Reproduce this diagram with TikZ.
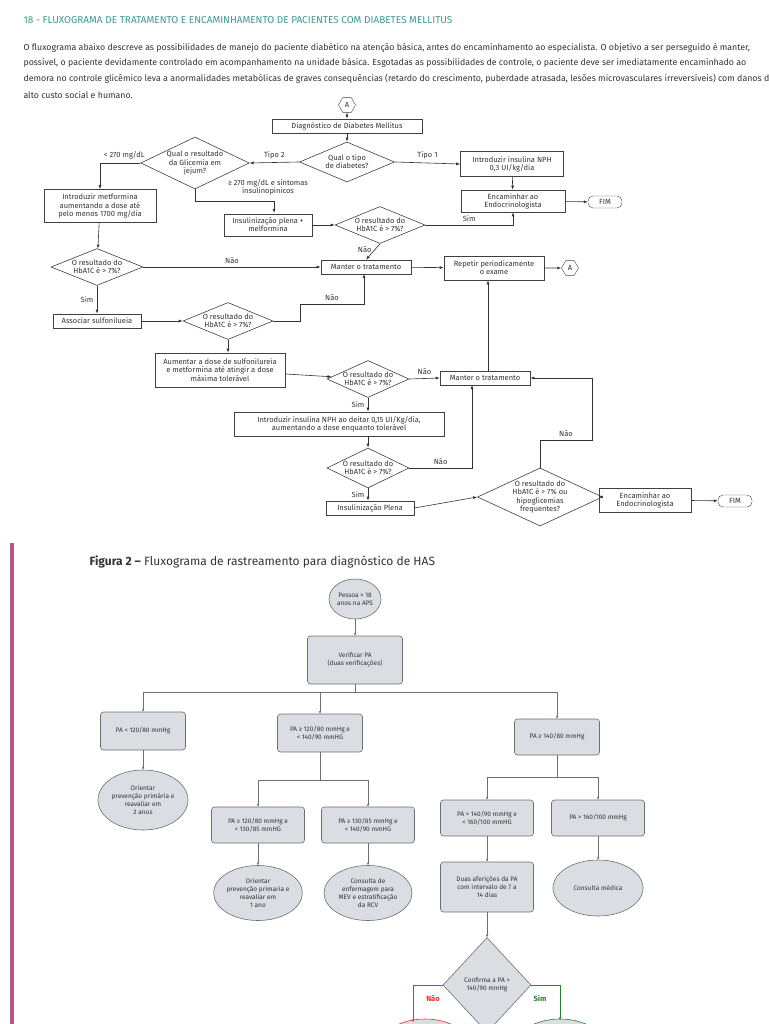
\documentclass[tikz,border=0pt]{standalone}
\usepackage{fontspec}
\setmainfont{Fira Sans}
\usetikzlibrary{shapes.geometric,arrows.meta}
\definecolor{teal1}{HTML}{3E9A8C}
\definecolor{bx}{HTML}{DADEE3}
\definecolor{bd}{HTML}{6B6F73}
\definecolor{mag}{HTML}{B8577F}
\definecolor{gr}{HTML}{2E7D32}
\definecolor{rd}{HTML}{E03030}
\begin{document}
\begin{tikzpicture}[x=1pt,y=-1pt,
 every node/.style={font=\fontsize{7.5}{8.2}\selectfont, text=black!80},
 bx/.style={draw=black!75, line width=0.6pt, align=center, inner sep=1.5pt},
 dm/.style={draw=black!75, line width=0.6pt, diamond, aspect=2.2, align=center, inner sep=0pt},
 hx/.style={draw=black!75, regular polygon, regular polygon sides=6, minimum size=17pt, inner sep=0pt},
 fim/.style={draw=black!75, rounded corners=5pt, minimum width=34pt, minimum height=12pt, inner sep=1pt},
 ar/.style={-{Latex[length=4pt,width=3pt]}, line width=0.6pt, black!80},
 lb/.style={font=\fontsize{7.5}{8.2}\selectfont},
 gb/.style={draw=bd, fill=bx, rounded corners=3pt, align=center, line width=0.6pt, font=\fontsize{6.5}{7.8}\selectfont},
 ge/.style={draw=bd, fill=bx, ellipse, align=center, line width=0.6pt, inner sep=0pt, font=\fontsize{6.5}{7.8}\selectfont},
 ga/.style={-{Stealth[length=3pt,width=2.5pt]}, bd, line width=0.6pt},
]
\useasboundingbox (0,0) rectangle (768,1024);
\clip (0,0) rectangle (768,1024);
% ===== header =====
\node[anchor=west, text=teal1, font=\fontsize{10}{11}\selectfont] (title) at (20,20) {18 - FLUXOGRAMA DE TRATAMENTO E ENCAMINHAMENTO DE PACIENTES COM DIABETES MELLITUS};
\node[anchor=west, font=\fontsize{8.8}{9}\selectfont] (p1) at (20,48) {O fluxograma abaixo descreve as possibilidades de manejo do paciente diabético na atenção básica, antes do encaminhamento ao especialista. O objetivo a ser perseguido é manter,};
\node[anchor=west, font=\fontsize{8.8}{9}\selectfont] (p2) at (20,63) {possível, o paciente devidamente controlado em acompanhamento na unidade básica. Esgotadas as possibilidades de controle, o paciente deve ser imediatamente encaminhado ao};
\node[anchor=west, font=\fontsize{8.8}{9}\selectfont] (p3) at (20,79) {demora no controle glicêmico leva a anormalidades metabólicas de graves consequências (retardo do crescimento, puberdade atrasada, lesões microvasculares irreversíveis) com danos de};
\node[anchor=west, font=\fontsize{8.8}{9}\selectfont] (p4) at (20,95) {alto custo social e humano.};
% ===== top flowchart =====
\node[hx] (A1) at (347,105) {A};
\node[bx, minimum width=150pt, minimum height=14pt] (diag) at (347,126) {Diagnóstico de Diabetes Mellitus};
\node[dm, minimum width=95pt, minimum height=40pt] (tipo) at (347,162) {Qual o tipo\\de diabetes?};
\node[dm, minimum width=102pt, minimum height=52pt] (glic) at (195,163) {Qual o resultado\\da Glicemia em\\jejum?};
\node[bx, minimum width=103pt, minimum height=25pt] (nph) at (512,164) {Introduzir insulina NPH\\0,3 UI/kg/dia};
\node[bx, minimum width=104pt, minimum height=22pt] (enc1) at (513,201) {Encaminhar ao\\Endocrinologista};
\node[fim] (fim1) at (605,202) {FIM};
\node[bx, minimum width=112pt, minimum height=33pt] (metf) at (100,206) {Introduzir metformina\\aumentando a dose até\\pelo menos 1700 mg/dia};
\node[bx, minimum width=88pt, minimum height=22pt] (insm) at (268,225) {Insulinização plena +\\melformina};
\node[dm, minimum width=90pt, minimum height=36pt] (h1) at (380,225) {O resultado do\\HbA1C é > 7\%?};
\node[bx, minimum width=90pt, minimum height=14pt] (man1) at (366,267) {Manter o tratamento};
\node[dm, minimum width=92pt, minimum height=36pt] (h2) at (97,267) {O resultado do\\HbA1C é > 7\%?};
\node[bx, minimum width=100pt, minimum height=24pt] (rep) at (494,268) {Repetir periodicamente\\o exame};
\node[hx] (A2) at (570,268) {A};
\node[bx, minimum width=88pt, minimum height=14pt] (sulf) at (97,321) {Associar sulfonilueia};
\node[dm, minimum width=90pt, minimum height=36pt] (h3) at (228,321) {O resultado do\\HbA1C é > 7\%?};
\node[bx, minimum width=130pt, minimum height=34pt] (aum) at (220,370) {Aumentar a dose de sulfonilureia\\e metformina até atingir a dose\\máxima tolerável};
\node[dm, minimum width=82pt, minimum height=36pt] (h4) at (368,379) {O resultado do\\HbA1C é > 7\%?};
\node[bx, minimum width=90pt, minimum height=14pt] (man2) at (485,378) {Manter o tratamento};
\node[bx, minimum width=210pt, minimum height=24pt] (nph2) at (339,424) {Introduzir insulina NPH ao deitar 0,15 UI/Kg/dia,\\aumentando a dose enquanto tolerável};
\node[dm, minimum width=82pt, minimum height=40pt] (h5) at (368,468) {O resultado do\\HbA1C é > 7\%?};
\node[bx, minimum width=88pt, minimum height=14pt] (insp) at (370,508) {Insulinização Plena};
\node[dm, minimum width=102pt, minimum height=58pt] (h6) at (540,497) {O resultado do\\HbA1C é > 7\% ou\\hipoglicemias\\frequentes?};
\node[bx, minimum width=92pt, minimum height=24pt] (enc2) at (645,500) {Encaminhar ao\\Endocrinologista};
\node[fim] (fim2) at (735,501) {FIM};
% connectors
\draw[ar] (A1) -- (diag);
\draw[ar] (diag) -- (tipo);
\draw[ar] (tipo.west) -- node[lb, above]{Tipo 2} (glic.east);
\draw[ar] (tipo.east) -- node[lb, above]{Tipo 1} (nph.west);
\draw[ar] (nph) -- (enc1);
\draw[ar] (enc1) -- (fim1);
\draw[ar] (glic.west) -- node[lb, above, pos=0.4]{< 270 mg/dL} (glic.west -| metf.north) -- (metf.north);
\draw[ar] (glic.south) |- (274,201) -- (274,213);
\node[lb, align=center] (l270) at (268,187) {≥ 270 mg/dL e sintomas\\insulinopinicos};
\draw[ar] (insm) -- (h1);
\draw[ar] (h1.east) -- node[lb, above]{Sim} (h1.east -| enc1.south) -- (enc1.south);
\draw[ar] (h1.south) -- node[lb, left, pos=0.35]{Não} (man1.north);
\draw[ar] (metf) -- (h2);
\draw[ar] (h2.east) -- node[lb, above]{Não} (man1.west);
\draw[ar] (man1) -- (rep);
\draw[ar] (rep) -- (A2);
\draw[ar] (h2.south) -- node[lb, left]{Sim} (sulf.north);
\draw[ar] (sulf) -- (h3);
\draw[ar] (h3.east) -- (300,321) -- (300,304) -- node[lb, above]{Não} (364,304) -- (364,274);
\draw[ar] (h3.south) -- (h3.south |- aum.north);
\draw[ar] (aum) -- (h4);
\draw[ar] (h4.east) -- node[lb, above]{Não} (man2.west);
\draw[ar] (man2.north -| 488,0) -- (rep.south -| 488,0);
\draw[ar] (h4.south) -- node[lb, left]{Sim} (h4.south |- nph2.north);
\draw[ar] (nph2.south -| h5.north) -- (h5.north);
\draw[ar] (h5.east) -- node[lb, above]{Não} (472,468) -- (472,385);
\draw[ar] (h5.south) -- node[lb, left]{Sim} (h5.south |- insp.north);
\draw[ar] (insp.east) -- (h6.west);
\draw[ar] (h6.north) -- (540,440) -- node[lb, above]{Não} (592,440) -- (592,378) -- (man2.east);
\draw[ar] (h6.east) -- (enc2);
\draw[ar] (enc2) -- (fim2);
% ===== bottom figure =====
\fill[mag] (10,543) rectangle (14,1024);
\node[anchor=west, font=\fontsize{12}{13}\selectfont] (fig) at (86,562) {\textbf{Figura 2 –} Fluxograma de rastreamento para diagnóstico de HAS};
\node[ge, minimum width=52pt, minimum height=40pt] (pes) at (355,599) {Pessoa > 18\\anos na APS};
\node[gb, minimum width=95pt, minimum height=48pt] (ver) at (355,660) {Verificar PA\\(duas verificações)};
\node[gb, minimum width=85pt, minimum height=38pt] (b1) at (143,731) {PA < 120/80 mmHg};
\node[gb, minimum width=85pt, minimum height=38pt] (b2) at (320,733) {PA ≥ 120/80 mmHg e\\< 140/90 mmHG};
\node[gb, minimum width=85pt, minimum height=36pt] (b3) at (557,737) {PA ≥ 140/80 mmHg};
\node[ge, minimum width=90pt, minimum height=60pt] (e1) at (143,800) {Orientar\\prevenção primária e\\reavaliar em\\2 anos};
\node[gb, minimum width=93pt, minimum height=36pt] (b21) at (258,825) {PA ≥ 120/80 mmHg e\\< 130/85 mmHG};
\node[gb, minimum width=93pt, minimum height=36pt] (b22) at (368,825) {PA ≥ 130/85 mmHg e\\< 140/90 mmHG};
\node[ge, minimum width=88pt, minimum height=55pt] (e21) at (258,893) {Orientar\\prevenção primaria e\\reavaliar em\\1 ano};
\node[ge, minimum width=88pt, minimum height=55pt] (e22) at (368,893) {Consulta de\\enfermagem para\\MEV e estratificação\\da RCV};
\node[gb, minimum width=93pt, minimum height=36pt] (b31) at (487,818) {PA > 140/90 mmHg e\\< 160/100 mmHG};
\node[gb, minimum width=93pt, minimum height=36pt] (b32) at (598,818) {PA > 160/100 mmHg};
\node[gb, minimum width=93pt, minimum height=50pt] (duas) at (487,887) {Duas aferições da PA\\com intervalo de 7 a\\14 dias};
\node[ge, minimum width=90pt, minimum height=56pt] (cm) at (598,888) {Consulta médica};
\node[draw=bd, fill=bx, diamond, minimum width=88pt, minimum height=95pt, inner sep=0pt, align=center, line width=0.6pt, font=\fontsize{6.5}{7.8}\selectfont] (conf) at (487,985) {Confirma a PA >\\140/90 mmHg};
\node[ellipse, draw=rd, fill=bx, line width=0.6pt, minimum width=90pt, minimum height=56pt] (en) at (425,1047) {};
\node[ellipse, draw=gr, fill=bx, line width=0.6pt, minimum width=90pt, minimum height=56pt] (es) at (560,1047) {};
\draw[ga] (pes) -- (ver);
\draw[ga] (ver.south) -- (355,692) -| (b1.north);
\draw[ga] (355,692) -| (b2.north);
\draw[ga] (355,692) -| (b3.north);
\draw[ga] (b1) -- (e1);
\draw[ga] (b2.south) -- (320,780) -| (b21.north);
\draw[ga] (320,780) -| (b22.north);
\draw[ga] (b21) -- (e21);
\draw[ga] (b22) -- (e22);
\draw[ga] (b3.south) -- (557,777) -| (b31.north);
\draw[ga] (557,777) -| (b32.north);
\draw[ga] (b31) -- (duas);
\draw[ga] (b32) -- (cm);
\draw[ga] (duas) -- (conf);
\draw[-{Stealth[length=3pt,width=2.5pt]}, rd, line width=0.6pt] (conf.west) -| (413,1022);
\draw[-{Stealth[length=3pt,width=2.5pt]}, gr, line width=0.6pt] (conf.east) -| (560,1020);
\node[text=rd, font=\bfseries\fontsize{7.5}{8}\selectfont] (nao) at (433,999) {Não};
\node[text=gr, font=\bfseries\fontsize{7.5}{8}\selectfont] (sim) at (540,999) {Sim};
\end{tikzpicture}
\end{document}
